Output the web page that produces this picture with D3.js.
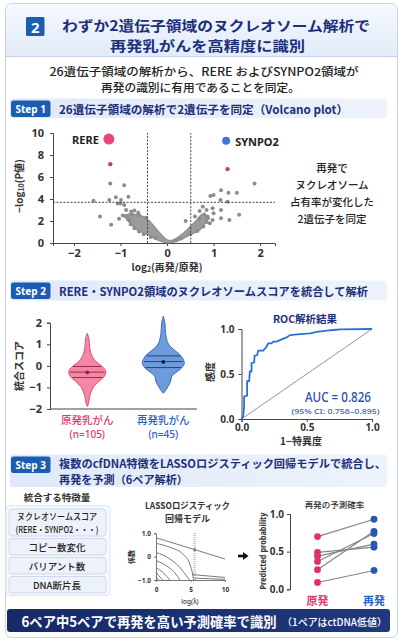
<!DOCTYPE html>
<html><head><meta charset="utf-8">
<script src="https://cdn.jsdelivr.net/npm/d3@7"></script>
<style>
html,body{margin:0;padding:0;background:#fff;}
svg{display:block;font-family:"Noto Sans CJK JP","Noto Sans",sans-serif;}
</style></head><body>
<svg id="c" width="408" height="643"></svg>
<script>
// ---------------- DATA ----------------
// Volcano plot
const volcanoXTicks = [-2, -1, 0, 1, 2];
const volcanoYTicks = [0, 2, 4, 6, 8, 10];
const foldThresholds = [-0.42, 0.51];
const pThreshold = 3.7;
const grayPointsX = [-1.22,-0.92,-1.58,-1.24,-1.10,-0.99,-0.83,-1.06,-0.92,-1.00,-1.44,-1.20,-0.88,-1.03,-0.77,-0.80,-0.95,-0.70,-0.62,
  1.16,1.32,1.50,1.88,0.93,1.00,1.15,1.30,0.77,0.98,1.00,1.16,1.16,1.34,1.55,0.98,0.87,0.85,0.92,0.70,
  -0.90,-0.85,-0.78,-0.70,-0.60,-0.50,-0.35,-0.75,-0.60,-0.45,-0.25,
  0.60,0.70,0.80,0.88,0.85,0.78,0.65,0.50,0.40,0.30,0.20];
const grayPointsY = [5.40,5.25,3.85,3.90,4.15,3.90,4.20,3.60,3.45,3.60,2.40,1.65,3.00,2.20,2.86,2.10,2.50,2.95,2.75,
  4.80,4.57,4.57,5.40,4.28,4.37,3.90,3.76,3.30,3.16,2.70,3.00,2.26,2.10,2.56,2.10,2.40,3.00,1.80,2.90,
  2.45,2.20,1.70,1.35,1.05,0.80,0.55,2.60,2.55,2.30,0.45,
  2.40,2.20,2.60,2.25,1.90,1.50,1.10,0.80,2.00,0.40,0.25];
// dense cloud outline (log2FC, -log10P)
const cloudX = [0.03,-0.20,-0.40,-0.65,-0.80,-0.88,-0.86,-0.69,-0.51,-0.40,-0.15,0.00,0.14,0.35,0.50,0.64,0.75,0.86,0.82,0.71,0.50,0.20];
const cloudY = [0.00,0.25,0.75,1.20,1.80,2.30,2.60,2.60,2.40,2.10,0.90,0.30,0.30,0.90,1.50,2.10,2.60,2.40,1.80,1.20,0.75,0.15];
const sigSmallX = [-1.22, 1.30];
const sigSmallY = [7.17, 6.72];
const geneLabels = ["RERE", "SYNPO2"];
const geneX = [-1.25, 1.27];
const geneY = [9.45, 9.30];

// Violin
const violinGroups = ["原発乳がん", "再発乳がん"];
const violinN = ["(n=105)", "(n=45)"];
const violinTicks = [-2, -1, 0, 1, 2];
const primaryScore   = [-1.88,-1.73,-1.42,-1.19,-0.96,-0.72,-0.49,-0.26,-0.03,0.20,0.43,0.74,1.05,1.30,1.50];
const primaryDensity = [0,0.06,0.11,0.19,0.31,0.55,0.81,0.88,0.71,0.40,0.24,0.13,0.10,0.07,0];
const recurScore     = [-1.27,-1.11,-0.93,-0.72,-0.49,-0.34,-0.10,0.12,0.43,0.66,0.90,1.13,1.51,1.97,2.31];
const recurDensity   = [0,0.13,0.24,0.35,0.40,0.56,0.87,1.00,0.87,0.62,0.33,0.19,0.11,0.08,0];
const primaryQuartiles = [-0.54, -0.29, -0.03];
const recurQuartiles   = [-0.08, 0.20, 0.46];
const violinMeans = [-0.30, 0.18];

// ROC
const rocFPR = [0,0.013,0.02,0.02,0.038,0.043,0.043,0.059,0.064,0.064,0.077,0.077,0.097,0.10,0.12,0.128,0.166,0.19,0.205,0.23,0.243,0.27,0.307,0.346,0.372,0.449,0.526,0.577,0.654,0.705,0.756,1.0];
const rocTPR = [0,0.03,0.14,0.25,0.26,0.26,0.42,0.42,0.53,0.53,0.53,0.62,0.63,0.70,0.71,0.76,0.76,0.80,0.84,0.84,0.86,0.86,0.885,0.907,0.933,0.944,0.952,0.967,0.981,0.989,0.996,1.0];
const rocTicks = [0, 0.5, 1.0];
const aucText = "AUC = 0.826";
const ciText = "(95% CI: 0.756–0.895)";

// Features
const features = ["コピー数変化", "バリアント数", "DNA断片長"];

// LASSO coefficient paths [log(lambda), coefficient]
const lassoPaths = [
  [[0,0.81],[10,-0.10]],
  [[0,0.57],[2.0,0.40],[3.9,0.11],[4.9,-0.31],[5.3,-0.74],[5.45,-1.0]],
  [[0,0.19],[2.0,-0.10],[3.46,-0.46],[4.4,-0.82],[4.9,-1.0]],
  [[0,-0.17],[1.56,-0.40],[2.75,-0.70],[3.46,-1.0]],
  [[0,-0.46],[1.08,-0.70],[2.03,-1.0]],
  [[0,-0.67],[0.85,-0.96],[1.0,-1.0]],
  [[0,-0.86],[0.36,-1.0]],
  [[5.3,-0.77],[10,-0.89]],
  [[5.6,-0.92],[10,-0.97]]
];
const lassoXTicks = [0, 5, 10];
const lassoYTicks = [-1, 0, 1];
const lassoLambdaSel = 5.6;

// Paired predicted probability
const pairGroups = ["原発", "再発"];
const pairPrimary = [0.70, 0.49, 0.44, 0.37, 0.26, 0.09];
const pairRecur   = [0.93, 0.56, 0.60, 0.74, 0.77, 0.25];
const pairTicks = [0, 0.5, 1.0];

// ---------------- DRAW ----------------
const svg = d3.select("#c");
const NAVY = "#1c2f78", STEPBLUE = "#1d5cb3", PINK = "#e23a6a", BLUE = "#2a62c0";

const defs = svg.append("defs");
const hg = defs.append("linearGradient").attr("id","hg").attr("x1",0).attr("y1",0).attr("x2",0).attr("y2",1);
hg.append("stop").attr("offset","0%").attr("stop-color","#f5f8fe");
hg.append("stop").attr("offset","100%").attr("stop-color","#e2ebf8");
const bg = defs.append("linearGradient").attr("id","bg").attr("x1",0).attr("y1",0).attr("x2",1).attr("y2",0);
bg.append("stop").attr("offset","0%").attr("stop-color","#172a66");
bg.append("stop").attr("offset","100%").attr("stop-color","#20387e");
const sg = defs.append("linearGradient").attr("id","sg").attr("x1",0).attr("y1",0).attr("x2",1).attr("y2",0);
sg.append("stop").attr("offset","0%").attr("stop-color","#dfe9f8");
sg.append("stop").attr("offset","100%").attr("stop-color","#eef3fb");

function T(x, y, s, o = {}) {
  const t = svg.append("text").attr("x", x).attr("y", y).text(s)
    .attr("font-size", o.size || 11).attr("font-weight", o.weight || 400)
    .attr("fill", o.fill || "#222").attr("text-anchor", o.anchor || "start")
    .attr("dominant-baseline", "central");
  if (o.len) t.attr("textLength", o.len).attr("lengthAdjust", "spacingAndGlyphs");
  if (o.rot != null) t.attr("transform", `rotate(${o.rot},${x},${y})`);
  if (o.family) t.attr("font-family", o.family);
  return t;
}
function styleAxis(g, size) {
  g.selectAll("path.domain").attr("stroke", "#444").attr("stroke-width", 1);
  g.selectAll(".tick line").attr("stroke", "#444");
  g.selectAll(".tick text").attr("font-size", size).attr("font-weight", 700)
    .attr("fill", "#333").attr("font-family", "'Noto Sans',sans-serif");
}

// card
svg.append("rect").attr("x",5.5).attr("y",3.5).attr("width",392).attr("height",634)
  .attr("rx",6).attr("fill","#fff").attr("stroke","#c9d4e8");
svg.append("path").attr("d","M6,56 L6,10 Q6,4 12,4 L391,4 Q397,4 397,10 L397,56 Z").attr("fill","url(#hg)");
svg.append("line").attr("x1",6).attr("x2",397).attr("y1",56.5).attr("y2",56.5).attr("stroke","#c3d1ea");

// title
svg.append("rect").attr("x",26).attr("y",17).attr("width",18.5).attr("height",19).attr("rx",1.5).attr("fill",STEPBLUE);
T(35.3, 26.8, "2", {size:15, weight:700, fill:"#fff", anchor:"middle", family:"'Noto Sans',sans-serif"});
T(62, 25, "わずか2遺伝子領域のヌクレオソーム解析で", {size:14, weight:700, fill:NAVY, len:308});
T(110, 45.3, "再発乳がんを高精度に識別", {size:14, weight:700, fill:NAVY, len:195});

T(49.5, 70.5, "26遺伝子領域の解析から、RERE およびSYNPO2領域が", {size:11, weight:500, fill:"#222", len:309});
T(101, 86.5, "再発の識別に有用であることを同定。", {size:11, weight:500, fill:"#222", len:199});

// step bars
function stepBar(y, h, label, rows, gap, size) {
  svg.append("rect").attr("x",10).attr("y",y).attr("width",377).attr("height",h).attr("rx",3).attr("fill","url(#sg)");
  svg.append("rect").attr("x",11).attr("y",y+2).attr("width",39.5).attr("height",16.5).attr("rx",2.5).attr("fill",STEPBLUE);
  T(30.7, y+10.5, label, {size:10, weight:700, fill:"#fff", anchor:"middle", family:"'Noto Sans',sans-serif"});
  rows.forEach((r,i) => T(59, y + (rows.length > 1 ? 8.5 : 10.5) + i*gap, r[0], {size:size, weight:700, fill:NAVY, len:r[1]}));
}
stepBar(98.5, 19.5, "Step 1", [["26遺伝子領域の解析で2遺伝子を同定（Volcano plot）", 289]], 0, 11.5);
stepBar(280.5, 20, "Step 2", [["RERE・SYNPO2領域のヌクレオソームスコアを統合して解析", 309]], 0, 11.5);
stepBar(454.5, 32.5, "Step 3", [["複数のcfDNA特徴をLASSOロジスティック回帰モデルで統合し、", 327], ["再発を予測（6ペア解析）", 129]], 16, 11);

// ---------- Volcano ----------
const vx = d3.scaleLinear().domain([-2.45, 2.32]).range([53, 275]);
const vy = d3.scaleLinear().domain([0, 10]).range([243, 133]);
const gvx = svg.append("g").attr("transform","translate(0,243)")
  .call(d3.axisBottom(vx).tickValues(volcanoXTicks).tickSize(3).tickPadding(3).tickFormat(d3.format("d")));
styleAxis(gvx, 11);
const gvy = svg.append("g").attr("transform","translate(53,0)")
  .call(d3.axisLeft(vy).tickValues(volcanoYTicks).tickSize(3).tickPadding(6));
styleAxis(gvy, 11);
const cloudPts = cloudX.map((x,i) => [vx(x), vy(cloudY[i])]);
svg.append("path").attr("d", d3.line().curve(d3.curveCatmullRomClosed.alpha(0.5))(cloudPts))
  .attr("fill","#9b9b9b").attr("stroke","#8e8e8e").attr("stroke-width",1.2);
svg.append("g").selectAll("circle").data(grayPointsX).join("circle")
  .attr("cx",(d)=>vx(d)).attr("cy",(d,i)=>vy(grayPointsY[i])).attr("r",2)
  .attr("fill","#8d8d8d");
foldThresholds.forEach(t => svg.append("line").attr("x1",vx(t)).attr("x2",vx(t)).attr("y1",vy(0)).attr("y2",vy(10))
  .attr("stroke","#444").attr("stroke-width",1).attr("stroke-dasharray","2,1.5"));
svg.append("line").attr("x1",53).attr("x2",275).attr("y1",vy(pThreshold)).attr("y2",vy(pThreshold))
  .attr("stroke","#444").attr("stroke-width",1).attr("stroke-dasharray","2,1.5");
svg.append("g").selectAll("circle").data(sigSmallX).join("circle")
  .attr("cx",d=>vx(d)).attr("cy",(d,i)=>vy(sigSmallY[i])).attr("r",2.2).attr("fill","#c8406a");
svg.append("circle").attr("cx",vx(geneX[0])).attr("cy",vy(geneY[0])).attr("r",5.5).attr("fill","#e8457a");
svg.append("circle").attr("cx",vx(geneX[1])).attr("cy",vy(geneY[1])).attr("r",4).attr("fill","#3b78d0");
T(vx(geneX[0]) - 10, vy(geneY[0]) + 0.5, geneLabels[0], {size:11, weight:700, fill:"#222", anchor:"end", family:"'Noto Sans',sans-serif"});
T(vx(geneX[1]) + 9, vy(geneY[1]) + 0.5, geneLabels[1], {size:11, weight:700, fill:"#222", family:"'Noto Sans',sans-serif"});
const yl = svg.append("text").attr("transform","translate(18,186) rotate(-90)").attr("text-anchor","middle")
  .attr("dominant-baseline","central").attr("font-size",10).attr("font-weight",700).attr("fill","#333");
yl.append("tspan").text("−log");
yl.append("tspan").text("10").attr("font-size",7).attr("dy",2.5);
yl.append("tspan").text("(P値)").attr("dy",-2.5);
const xl = svg.append("text").attr("x",167).attr("y",266).attr("text-anchor","middle")
  .attr("dominant-baseline","central").attr("font-size",10).attr("font-weight",700).attr("fill","#333");
xl.append("tspan").text("log");
xl.append("tspan").text("2").attr("font-size",7).attr("dy",2.5);
xl.append("tspan").text("(再発/原発)").attr("dy",-2.5);
["再発で","ヌクレオソーム","占有率が変化した","2遺伝子を同定"].forEach((s,i) =>
  T(332, 167 + i*17.3, s, {size:10.5, weight:500, fill:"#222", anchor:"middle"}));

// ---------- Violin ----------
const wy = d3.scaleLinear().domain([-2, 2]).range([409, 322.7]);
const ww = d3.scaleLinear().domain([0, 1]).range([0, 21]);
const wx = d3.scalePoint().domain(violinGroups).range([87.3, 163.3]);
const gwy = svg.append("g").attr("transform","translate(50,0)")
  .call(d3.axisLeft(wy).tickValues(violinTicks).tickSize(3).tickPadding(5).tickFormat(d3.format("d")));
styleAxis(gwy, 11);
svg.append("line").attr("x1",50).attr("x2",197).attr("y1",409).attr("y2",409).attr("stroke","#444");
function densAt(sc, de, s) {
  for (let i = 0; i < sc.length - 1; i++) {
    if (s >= sc[i] && s <= sc[i+1]) { const t = (s - sc[i]) / (sc[i+1] - sc[i]); return de[i] + t*(de[i+1]-de[i]); }
  }
  return 0;
}
const vio = [
  {g: violinGroups[0], sc: primaryScore, de: primaryDensity, q: primaryQuartiles, m: violinMeans[0], fill:"#f27b9a", stroke:"#de4a74", ql:"#8b2446", md:"#a8123c", lab: PINK},
  {g: violinGroups[1], sc: recurScore, de: recurDensity, q: recurQuartiles, m: violinMeans[1], fill:"#5e90d8", stroke:"#3a6cbd", ql:"#1b3a70", md:"#0d1d45", lab: BLUE}
];
vio.forEach((v, k) => {
  const cx = wx(v.g);
  const pts = v.sc.map((s,i) => [s, v.de[i]]);
  const area = d3.area().curve(d3.curveCatmullRom.alpha(0.5))
    .y(d => wy(d[0])).x0(d => cx - ww(d[1])).x1(d => cx + ww(d[1]));
  svg.append("path").attr("d", area(pts)).attr("fill", v.fill).attr("fill-opacity",0.9)
    .attr("stroke", v.stroke).attr("stroke-width", 1);
  v.q.forEach(q => {
    const w = ww(densAt(v.sc, v.de, q));
    svg.append("line").attr("x1", cx - w + 1).attr("x2", cx + w - 1).attr("y1", wy(q)).attr("y2", wy(q))
      .attr("stroke", v.ql).attr("stroke-width", 0.9);
  });
  svg.append("circle").attr("cx", cx).attr("cy", wy(v.m)).attr("r", 1.9).attr("fill", v.md);
  T(cx, 419.5, v.g, {size:10.5, weight:500, fill:v.lab, anchor:"middle"});
  T(cx, 434, violinN[k], {size:10, weight:500, fill:v.lab, anchor:"middle", family:"'Noto Sans',sans-serif"});
});
T(18, 366, "統合スコア", {size:10, weight:700, fill:"#333", anchor:"middle", rot:-90});

// ---------- ROC ----------
const rx = d3.scaleLinear().domain([0, 1]).range([241.5, 372]);
const ry = d3.scaleLinear().domain([0, 1]).range([419, 329]);
const grx = svg.append("g").attr("transform","translate(0,419)")
  .call(d3.axisBottom(rx).tickValues(rocTicks).tickSize(3).tickPadding(2).tickFormat(d3.format(".1f")));
styleAxis(grx, 10);
const gry = svg.append("g").attr("transform","translate(241.5,0)")
  .call(d3.axisLeft(ry).tickValues(rocTicks).tickSize(3).tickPadding(4).tickFormat(d3.format(".1f")));
styleAxis(gry, 10);
svg.append("line").attr("x1",rx(0)).attr("y1",ry(0)).attr("x2",rx(1)).attr("y2",ry(1))
  .attr("stroke","#888").attr("stroke-width",0.9);
svg.append("path").attr("d", d3.line().x((d,i)=>rx(rocFPR[i])).y(d=>ry(d))(rocTPR))
  .attr("fill","none").attr("stroke","#2c6fd6").attr("stroke-width",1.8);
T(305, 318, "ROC解析結果", {size:10.5, weight:700, fill:NAVY, anchor:"middle"});
T(209, 372, "感度", {size:10, weight:700, fill:"#333", anchor:"middle", rot:-90});
T(301, 440.5, "1−特異度", {size:10, weight:700, fill:"#333", anchor:"middle"});
T(305, 396, aucText, {size:14, weight:500, fill:"#2a4fa8", len:66, family:"'Noto Sans',sans-serif"});
T(291.5, 411, ciText, {size:7.5, weight:500, fill:"#3a5fb0", len:88, family:"'Noto Sans',sans-serif"});

// ---------- Features ----------
T(57, 497, "統合する特徴量", {size:9.5, weight:700, fill:"#333", anchor:"middle"});
svg.append("rect").attr("x",6).attr("y",505.5).attr("width",104).attr("height",90).attr("rx",4)
  .attr("fill","#f5f8fd").attr("stroke","#e0e7f3");
svg.append("rect").attr("x",9).attr("y",509).attr("width",97).attr("height",27).attr("rx",3)
  .attr("fill","#edf2fa").attr("stroke","#ccd9ee");
T(57, 516, "ヌクレオソームスコア", {size:9, weight:500, fill:"#222", anchor:"middle", len:80});
T(57, 529.2, "(RERE・SYNPO2・・・)", {size:9, weight:500, fill:"#222", anchor:"middle", len:83});
features.forEach((f,i) => {
  const y0 = 538.5 + i*19;
  svg.append("rect").attr("x",9).attr("y",y0).attr("width",97).attr("height",16.5).attr("rx",3)
    .attr("fill","#edf2fa").attr("stroke","#ccd9ee");
  T(57, y0 + 8.5, f, {size:9.5, weight:500, fill:"#222", anchor:"middle"});
});

// ---------- LASSO ----------
T(187.5, 505, "LASSOロジスティック", {size:9, weight:700, fill:"#333", anchor:"middle", len:85});
T(187.5, 518.3, "回帰モデル", {size:9, weight:700, fill:"#333", anchor:"middle"});
const lx = d3.scaleLinear().domain([0, 10]).range([156, 225]);
const ly = d3.scaleLinear().domain([-1, 1]).range([580, 533.3]);
svg.append("line").attr("x1",lx(lassoLambdaSel)).attr("x2",lx(lassoLambdaSel)).attr("y1",533).attr("y2",580)
  .attr("stroke","#c4c4c4").attr("stroke-width",2.5).attr("stroke-dasharray","1,1");
const glx = svg.append("g").attr("transform","translate(0,580)")
  .call(d3.axisBottom(lx).tickValues(lassoXTicks).tickSize(2).tickPadding(5).tickFormat(d3.format("d")));
styleAxis(glx, 6.5); glx.selectAll("path.domain,.tick line").attr("stroke","#777");
const gly = svg.append("g").attr("transform","translate(156,0)")
  .call(d3.axisLeft(ly).tickValues(lassoYTicks).tickSize(2).tickPadding(3).tickFormat(d => d === 0 ? "0" : d3.format(".1f")(d)));
styleAxis(gly, 6.5); gly.selectAll("path.domain,.tick line").attr("stroke","#777");
const lline = d3.line().curve(d3.curveMonotoneX).x(d => lx(d[0])).y(d => ly(d[1]));
svg.append("g").selectAll("path").data(lassoPaths).join("path").attr("d", lline)
  .attr("fill","none").attr("stroke","#7a7a7a").attr("stroke-width",1);
svg.append("circle").attr("cx",lx(lassoLambdaSel)).attr("cy",ly(0.81 + (-0.91)*lassoLambdaSel/10)).attr("r",1.3).attr("fill","#666");
T(131, 557, "係数", {size:7, weight:700, fill:"#333", anchor:"middle", rot:-90});
T(190, 601, "log(λ)", {size:6.5, weight:500, fill:"#333", anchor:"middle", family:"'Noto Sans',sans-serif"});
svg.append("path").attr("d","M238,556 L244,556").attr("stroke","#111").attr("stroke-width",2.6);
svg.append("path").attr("d","M243,552 L248.5,556 L243,560 Z").attr("fill","#111");

// ---------- Paired ----------
T(334.5, 503.5, "再発の予測確率", {size:8.5, weight:500, fill:"#333", anchor:"middle"});
const py = d3.scaleLinear().domain([0, 1]).range([589.3, 514]);
const px = d3.scalePoint().domain(pairGroups).range([317.5, 374]);
const gpy = svg.append("g").attr("transform","translate(290,0)")
  .call(d3.axisLeft(py).tickValues(pairTicks).tickSize(3).tickPadding(3).tickFormat(d3.format(".1f")));
styleAxis(gpy, 10);
svg.append("g").selectAll("line").data(pairPrimary).join("line")
  .attr("x1", px(pairGroups[0])).attr("x2", px(pairGroups[1]))
  .attr("y1", d => py(d)).attr("y2", (d,i) => py(pairRecur[i]))
  .attr("stroke","#858585").attr("stroke-width",1.2);
svg.append("g").selectAll("circle").data(pairPrimary).join("circle")
  .attr("cx", px(pairGroups[0])).attr("cy", d => py(d)).attr("r",3.4).attr("fill","#e0306a");
svg.append("g").selectAll("circle").data(pairRecur).join("circle")
  .attr("cx", px(pairGroups[1])).attr("cy", d => py(d)).attr("r",3.4).attr("fill","#2858b5");
T(px(pairGroups[0]), 600, pairGroups[0], {size:11, weight:700, fill:PINK, anchor:"middle"});
T(px(pairGroups[1]), 600, pairGroups[1], {size:11, weight:700, fill:BLUE, anchor:"middle"});
T(262, 551, "Predicted probability", {size:8.5, weight:700, fill:"#333", anchor:"middle", rot:-90, len:77, family:"'Noto Sans',sans-serif"});

// ---------- Bottom banner ----------
svg.append("rect").attr("x",7).attr("y",609).attr("width",383).attr("height",23).attr("rx",3).attr("fill","url(#bg)");
T(21.5, 621, "6ペア中5ペアで再発を高い予測確率で識別", {size:14, weight:700, fill:"#fff", len:255});
T(282, 621, "（1ペアはctDNA低値）", {size:10, weight:500, fill:"#fff", len:105});
</script>
</body></html>
